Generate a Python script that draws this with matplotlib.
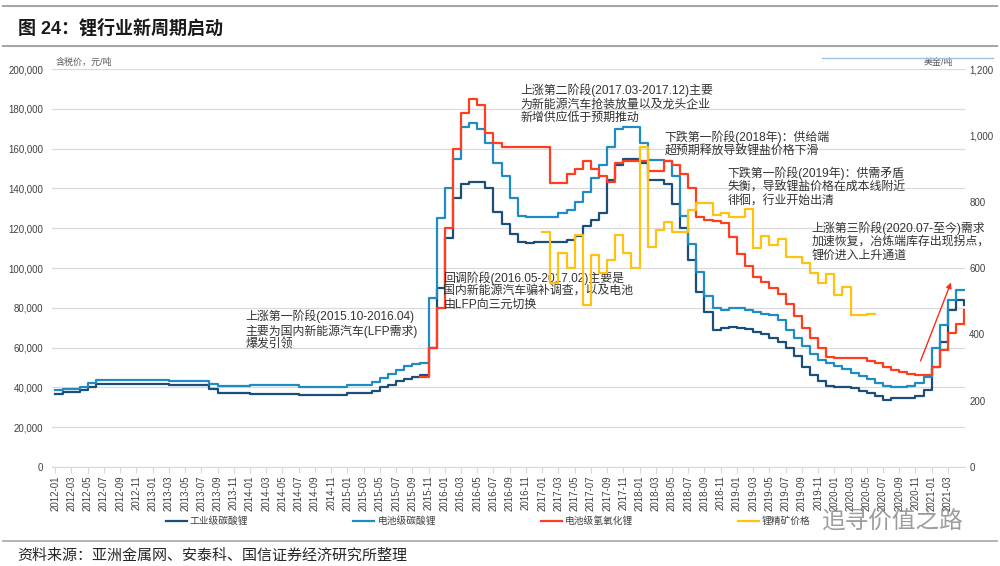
import numpy as np
import pandas as pd
import matplotlib
matplotlib.use("Agg")
import matplotlib.pyplot as plt
from matplotlib.lines import Line2D

plt.rcParams['font.family'] = ['Liberation Sans', 'Noto Sans CJK SC', 'DejaVu Sans']

# monthly, 2012-01 .. 2021-05 (元/吨)
months = pd.date_range("2012-01-01", "2021-05-01", freq="MS")

industrial = (
    [36500, 37500, 37500, 38500, 40000, 41500]
    + [41500] * 8 + [41000] * 5 + [39000] + [37000] * 4
    + [36500] * 6 + [36000] * 6 + [37000] * 3
    + [38000, 40000, 41000, 43000, 44000, 45000]
    + [46000, 60000, 90000, 115000, 135000, 142000, 143000, 143000, 140000, 128000,
       122000, 117000, 113000, 112500, 113000, 113000, 113000, 113000, 114000, 116000,
       121000, 124000, 127500, 144000, 152000, 155000, 155000, 153000, 144000, 144000,
       142000, 132000, 120000, 104000, 88000, 78000, 69000, 70000, 70400, 70000,
       69500, 68000, 67000, 65000, 63000, 60000, 56000, 50000, 46000, 43000,
       40500, 40300, 40300, 39500, 38000, 37000, 35500, 33600, 34500, 34600,
       34600, 35500, 38500, 50000, 63000, 79000, 84000, 81500]
)

battery_carbonate = (
    [38500, 39000, 39000, 40000, 42000, 43500]
    + [43500] * 8 + [43000] * 5 + [41500] + [40500] * 4
    + [41000] * 6 + [40000] * 6 + [41000] * 3
    + [42500, 44500, 46500, 48500, 50500, 51500]
    + [52000, 85000, 125000, 140000, 155000, 171000, 173000, 170000, 163000, 152800,
       146000, 135000, 126000, 125600, 125600, 125600, 125600, 127500, 129000, 133000,
       138000, 145000, 152000, 161000, 170000, 171000, 171000, 163000, 154300, 154300,
       154000, 146000, 126000, 112000, 98000, 86000, 80000, 79000, 79700, 79700,
       79000, 78000, 77000, 76300, 74000, 69000, 65000, 61000, 57000, 54000,
       52000, 50500, 49000, 47000, 45500, 44000, 42000, 40500, 40300, 40300,
       40500, 42000, 45000, 60000, 71300, 84000, 89000, 89000]
)

battery_hydroxide = (
    [np.nan] * 45
    + [45000, 60000, 80000, 120000, 160000, 178000, 185000, 182000, 168000, 163000,
       161000, 161000, 161000, 161000, 161000, 161000, 142700, 142700, 147000, 150000,
       154000, 150000, 146000, 143000, 152600, 154000, 154000, 154000, 149000, 149000,
       154000, 152000, 147000, 140000, 125500, 124000, 123500, 122500, 115600, 107000,
       101000, 95500, 93000, 90000, 87000, 82000, 76000, 70000, 65000, 60000,
       55300, 54800, 54800, 54800, 55000, 53500, 52000, 50000, 48700, 47500,
       46500, 46000, 46000, 50000, 58900, 67300, 72000, 79000]
)

# 美金/吨, right axis
spodumene = (
    [np.nan] * 60
    + [710, 555, 645, 600, 700, 489, 640, 585, 625, 700,
       645, 600, 964, 664, 716, 740, 710, 710, 776, 797,
       797, 761, 765, 755, 755, 779, 661, 697, 670, 688,
       634, 634, 615, 585, 555, 582, 519, 543, 458, 458, 461]
    + [np.nan] * 12
)

series_names = ["工业级碳酸锂", "电池级碳酸锂", "电池级氢氧化锂", "锂精矿价格"]
colors = ["#1B4F7A", "#1F8CC2", "#FF3D1F", "#FFC20E"]

notes = [
    (23.4, 79400, "上涨第一阶段(2015.10-2016.04)\n主要为国内新能源汽车(LFP需求)\n爆发引领"),
    (47.8, 98500, "回调阶段(2016.05-2017.02)主要是\n国内新能源汽车骗补调查，以及电池\n由LFP向三元切换"),
    (57.3, 192600, "上涨第二阶段(2017.03-2017.12)主要\n为新能源汽车抢装放量以及龙头企业\n新增供应低于预期推动"),
    (75.1, 168900, "下跌第一阶段(2018年)：供给端\n超预期释放导致锂盐价格下滑"),
    (82.8, 150800, "下跌第一阶段(2019年)：供需矛盾\n失衡，导致锂盐价格在成本线附近\n徘徊，行业开始出清"),
    (93.2, 123600, "上涨第三阶段(2020.07-至今)需求\n加速恢复，冶炼端库存出现拐点，\n锂价进入上升通道"),
]

x = np.arange(len(months))
assert len(industrial) == len(battery_carbonate) == len(battery_hydroxide) == len(spodumene) == len(x)

fig = plt.figure(figsize=(10, 5.66), dpi=100)
ax = fig.add_axes([0.052, 0.175, 0.913, 0.703])
ax2 = ax.twinx()

grid_c = "#D9D9D9"
txt_c = "#404040"

h1, = ax.plot(x, industrial, drawstyle="steps-post", color=colors[0], lw=1.6)
h2, = ax.plot(x, battery_carbonate, drawstyle="steps-post", color=colors[1], lw=1.6)
h3, = ax.plot(x, battery_hydroxide, drawstyle="steps-post", color=colors[2], lw=1.6)
h4, = ax2.plot(x, spodumene, drawstyle="steps-post", color=colors[3], lw=1.6)

ax.set_xlim(-0.4, 112.1)
ax.set_ylim(0, 200000)
ax2.set_ylim(0, 1200)
ax.set_yticks(np.arange(0, 200001, 20000))
ax.set_yticklabels([f"{v:,}" for v in range(0, 200001, 20000)])
ax2.set_yticks(np.arange(0, 1201, 200))
ax2.set_yticklabels([f"{v:,}" for v in range(0, 1201, 200)])

# labels every two months, last one 2021-03
ticks = x[:111:2]
ax.set_xticks(ticks)
ax.set_xticklabels([months[i].strftime("%Y-%m") for i in ticks], rotation=90)

ax.grid(axis="y", color=grid_c, lw=0.8)
ax.set_axisbelow(True)
for a in (ax, ax2):
    for s in ("top", "left", "right"):
        a.spines[s].set_visible(False)
    a.spines["bottom"].set_color(grid_c)
ax.tick_params(axis="y", length=0, pad=6.5, labelsize=7, labelcolor=txt_c)
ax2.tick_params(axis="y", length=0, pad=3, labelsize=7, labelcolor=txt_c)
ax.tick_params(axis="x", length=4, color=grid_c, labelsize=7, labelcolor=txt_c, pad=2)

ax.text(0.004, 1.006, "含税价，元/吨", transform=ax.transAxes, fontsize=6.5,
        color="#595959", va="bottom", ha="left")
ax.text(0.987, 1.006, "美金/吨", transform=ax.transAxes, fontsize=6.5,
        color="#595959", va="bottom", ha="right")

for nx, ny, s in notes:
    ax.text(nx, ny, s, fontsize=8.6, color="#333333", va="top", ha="left",
            linespacing=1.15, zorder=5)

ax.annotate("", xy=(110.5, 94000), xytext=(106.5, 52000),
            arrowprops=dict(arrowstyle="-|>", color="#FF2A1A", lw=1.0, mutation_scale=8))

fig.legend([h1, h2, h3, h4], series_names, loc="center left",
           bbox_to_anchor=(0.166, 1 - 521 / 566), ncol=4, frameon=False,
           fontsize=7, handlelength=2.16, handletextpad=0.3, columnspacing=10.8,
           borderpad=0, borderaxespad=0, labelcolor=txt_c)

fig.text(0.822, 1 - 521 / 566, "追寻价值之路", fontsize=17, color="#8C8C8C",
         va="center", ha="left", alpha=0.85)

# page furniture
for yy, lw in ((6, 1.5), (46, 1.5), (541, 1.2)):
    fig.add_artist(Line2D([0.003, 0.997], [1 - yy / 566] * 2, transform=fig.transFigure,
                          color="#A6A6A6", lw=lw))
fig.add_artist(Line2D([0.822, 0.993], [1 - 58 / 566] * 2, transform=fig.transFigure,
                      color="#9DC3E6", lw=1))
fig.text(0.018, 1 - 28 / 566, "图 24：锂行业新周期启动", fontsize=13, fontweight="bold",
         color="#1A1A1A", va="center", ha="left")
fig.text(0.017, 1 - 556 / 566, "资料来源：亚洲金属网、安泰科、国信证券经济研究所整理",
         fontsize=10.8, color="#262626", va="center", ha="left")

fig.savefig("out.png", dpi=100)
